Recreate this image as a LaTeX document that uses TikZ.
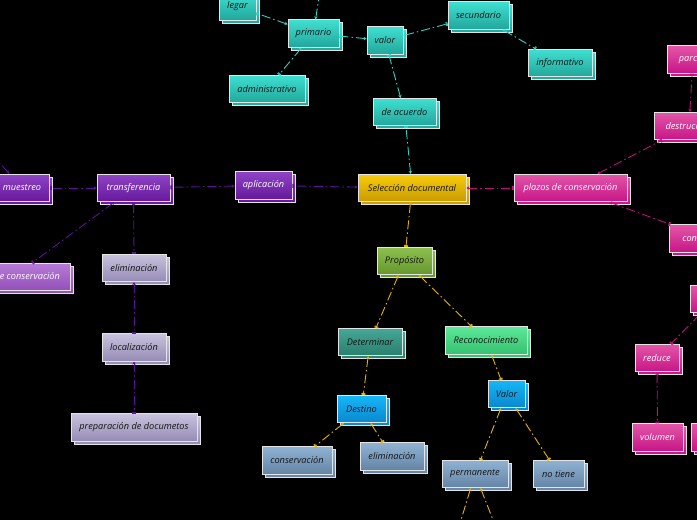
\documentclass[tikz,border=0pt]{standalone}
\usepackage{fontspec}
\setmainfont{Open Sans}
\usetikzlibrary{shadows,arrows.meta}
\definecolor{bord}{HTML}{E4E4E4}
\definecolor{dtext}{HTML}{151515}
\definecolor{teaT}{HTML}{3EE0D2}\definecolor{teaB}{HTML}{22A69A}
\definecolor{yelT}{HTML}{F7CB0A}\definecolor{yelB}{HTML}{C99B02}
\definecolor{magT}{HTML}{E356A8}\definecolor{magB}{HTML}{C71585}
\definecolor{purT}{HTML}{8E44C4}\definecolor{purB}{HTML}{65189C}
\definecolor{lpuT}{HTML}{B87AD8}\definecolor{lpuB}{HTML}{9250B8}
\definecolor{lavT}{HTML}{C8C2DE}\definecolor{lavB}{HTML}{948CB4}
\definecolor{grnT}{HTML}{8CC04E}\definecolor{grnB}{HTML}{65962C}
\definecolor{detT}{HTML}{45A896}\definecolor{detB}{HTML}{2A7E6C}
\definecolor{recT}{HTML}{5CE896}\definecolor{recB}{HTML}{34C270}
\definecolor{bluT}{HTML}{15B8F8}\definecolor{bluB}{HTML}{0A86CE}
\definecolor{stlT}{HTML}{8FB2D2}\definecolor{stlB}{HTML}{6484A6}
\definecolor{lnTea}{HTML}{2ED3C3}
\definecolor{lnPur}{HTML}{5E1199}
\definecolor{lnMag}{HTML}{C0107E}
\definecolor{lnYel}{HTML}{E6B400}
\tikzset{
  base/.style={draw=bord, line width=0.7pt, minimum height=27.5pt, inner sep=2pt,
    font=\fontsize{9.2}{11}\selectfont\itshape},
  col/.style 2 args={top color=#1, bottom color=#2,
    general shadow={shadow xshift=3pt, shadow yshift=-3pt, top color=#1, bottom color=#2, draw=bord, line width=0.7pt}},
  ntea/.style={base, col={teaT}{teaB}, text=dtext},
  nyel/.style={base, col={yelT}{yelB}, text=dtext},
  nmag/.style={base, col={magT}{magB}, text=white},
  npur/.style={base, col={purT}{purB}, text=white},
  nlpu/.style={base, col={lpuT}{lpuB}, text=white},
  nlav/.style={base, col={lavT}{lavB}, text=dtext},
  ngrn/.style={base, col={grnT}{grnB}, text=dtext},
  ndet/.style={base, col={detT}{detB}, text=dtext},
  nrec/.style={base, col={recT}{recB}, text=dtext},
  nblu/.style={base, col={bluT}{bluB}, text=dtext},
  nstl/.style={base, col={stlT}{stlB}, text=dtext},
  lnk/.style={line width=0.9pt, dash pattern=on 9pt off 3pt on 1.5pt off 3pt,
    {Stealth[length=3pt,width=3.5pt]}-{Bar[width=4pt]Bar[width=4pt]}},
  ltea/.style={lnk, draw=lnTea},
  lpur/.style={lnk, draw=lnPur},
  lmag/.style={lnk, draw=lnMag},
  lyel/.style={lnk, draw=lnYel},
}
\begin{document}
\begin{tikzpicture}[x=1pt,y=-1pt]
\useasboundingbox (0,0) rectangle (697,520);
\fill[black] (0,0) rectangle (697,520);
\clip (0,0) rectangle (697,520);
% teal branch
\node[ntea, minimum width=37pt] (legar) at (237.5,6.5) {legar};
\node[ntea, minimum width=51pt] (primario) at (313.5,33.5) {primario};
\node[ntea, minimum width=36pt] (valor) at (385,40.5) {valor};
\node[ntea, minimum width=61pt] (secundario) at (478.5,15.5) {secundario};
\node[ntea, minimum width=64pt] (informativo) at (560,63) {informativo};
\node[ntea, minimum width=76pt] (admin) at (267,89) {administrativo};
\node[ntea, minimum width=63pt] (acuerdo) at (404.5,112) {de acuerdo};
\coordinate (pup) at (320,-10);
% centre
\node[nyel, minimum width=108pt] (sel) at (412,188) {Selección documental};
% purple branch
\node[npur, minimum width=57pt] (aplic) at (263.5,185.5) {aplicación};
\node[npur, minimum width=73pt] (transf) at (133.5,188) {transferencia};
\node[npur, minimum width=55pt] (muestreo) at (22,188) {muestreo};
\node[nlpu, minimum width=115pt] (pconsl) at (13,277) {plazos de conservación};
\node[nlav, minimum width=64pt] (elimL) at (134,268) {eliminación};
\node[nlav, minimum width=64pt] (local) at (134,347.5) {localización};
\node[nlav, minimum width=126pt] (prep) at (134,427.5) {preparación de documetos};
\coordinate (mup) at (-3,160);
% magenta branch
\node[nmag, minimum width=113pt] (plazos) at (570.5,188) {plazos de conservación};
\node[nmag, minimum width=52pt] (parci) at (693,59.5) {parcial};
\node[nmag, minimum width=70pt] (destr) at (689,126) {destrucción};
\node[nmag, minimum width=80pt] (cons) at (709,238.5) {conservación};
\node[nmag, minimum width=50pt] (rone) at (715,299) {};
\node[nmag, minimum width=44pt] (reduce) at (657,358) {reduce};
\node[nmag, minimum width=51pt] (volumen) at (657.5,437.5) {volumen};
\node[nmag, minimum width=50pt] (rtwo) at (716,437.5) {};
% yellow branch
\node[ngrn, minimum width=55pt] (prop) at (404.5,261) {Propósito};
\node[ndet, minimum width=64pt] (deter) at (370,342) {Determinar};
\node[nrec, minimum width=82pt] (recon) at (486,340.5) {Reconocimiento};
\node[nblu, minimum width=49pt] (destino) at (361.5,409) {Destino};
\node[nblu, minimum width=37pt] (valorb) at (506.5,394) {Valor};
\node[nstl, minimum width=70pt] (conserv) at (297,460.5) {conservación};
\node[nstl, minimum width=64pt] (elimB) at (392,456.5) {eliminación};
\node[nstl, minimum width=66pt] (perm) at (475,474) {permanente};
\node[nstl, minimum width=51pt] (notiene) at (558.5,474) {no tiene};
\coordinate (pdA) at (458,530);
\coordinate (pdB) at (497,530);
% teal links
\draw[ltea] (sel) -- (acuerdo);
\draw[ltea] (acuerdo) -- (valor);
\draw[ltea] (valor) -- (primario);
\draw[ltea] (valor) -- (secundario);
\draw[ltea] (primario) -- (legar);
\draw[ltea] (primario) -- (admin);
\draw[ltea] (primario) -- (pup);
\draw[ltea] (secundario) -- (informativo);
% purple links
\draw[lpur] (sel) -- (aplic);
\draw[lpur] (aplic) -- (transf);
\draw[lpur] (transf) -- (muestreo);
\draw[lpur] (transf) -- (pconsl);
\draw[lpur] (transf) -- (elimL);
\draw[lpur] (elimL) -- (local);
\draw[lpur] (local) -- (prep);
\draw[lpur] (muestreo) -- (mup);
% magenta links
\draw[lmag] (sel) -- (plazos);
\draw[lmag] (plazos) -- (destr);
\draw[lmag] (plazos) -- (cons);
\draw[lmag] (destr) -- (parci);
\draw[lmag] (rone) -- (reduce);
\draw[lmag] (reduce) -- (volumen);
% yellow links
\draw[lyel] (sel) -- (prop);
\draw[lyel] (prop) -- (deter);
\draw[lyel] (prop) -- (recon);
\draw[lyel] (deter) -- (destino);
\draw[lyel] (recon) -- (valorb);
\draw[lyel] (destino) -- (conserv);
\draw[lyel] (destino) -- (elimB);
\draw[lyel] (valorb) -- (perm);
\draw[lyel] (valorb) -- (notiene);
\draw[lyel] (perm) -- (pdA);
\draw[lyel] (perm) -- (pdB);
\end{tikzpicture}
\end{document}
